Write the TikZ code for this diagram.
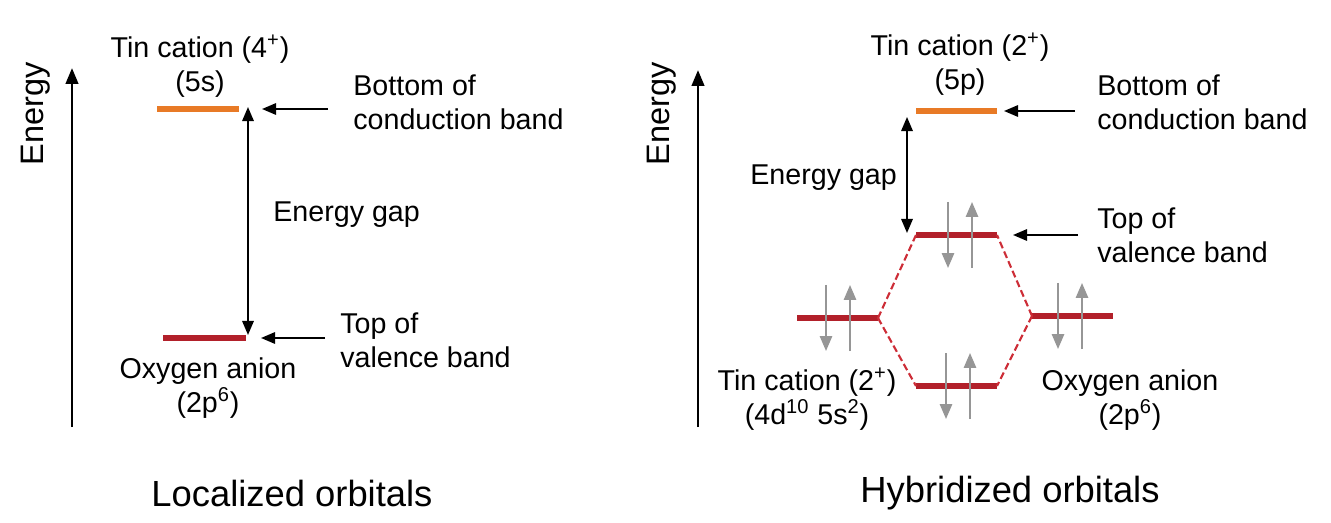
\documentclass[tikz,border=0pt]{standalone}
\usepackage{fontspec}
\setmainfont{Liberation Sans}
\usetikzlibrary{arrows.meta}
\definecolor{cborange}{RGB}{232,122,38}
\definecolor{vbred}{RGB}{178,32,42}
\definecolor{mored}{RGB}{205,45,55}
\definecolor{spingray}{RGB}{150,150,150}
\begin{document}
\begin{tikzpicture}[x=0.02cm, y=-0.02cm,
  lbl/.style={inner sep=0pt, font=\fontsize{16.3}{19.5}\selectfont, align=left, anchor=west},
  ctr/.style={inner sep=0pt, font=\fontsize{16.3}{19.5}\selectfont, align=center},
  ttl/.style={inner sep=0pt, font=\fontsize{20.7}{24}\selectfont},
  ax/.style={inner sep=0pt, rotate=90, font=\fontsize{18.5}{22}\selectfont},
  axis/.style={line width=1.6pt, -{Triangle[width=7pt,length=9pt]}},
  ptr/.style={line width=1.1pt, -{Triangle[width=6.5pt,length=8pt]}},
  gap/.style={line width=1.1pt, {Triangle[width=6.5pt,length=8pt]}-{Triangle[width=6.5pt,length=8pt]}},
  bar/.style={line width=3.4pt},
  mo/.style={mored, line width=1.2pt, dash pattern=on 4pt off 2pt},
  spin/.style={spingray, line width=1.1pt, -{Triangle[width=7pt,length=8.5pt]}}]
\useasboundingbox (0,0) rectangle (1331,523);

% localized orbitals
\coordinate (lax0) at (72,427);
\coordinate (lax1) at (72,68);
\draw[axis] (lax0) -- (lax1);
\node[ax] (len) at (36,114) {Energy};
\coordinate (lcb0) at (157,109);
\coordinate (lcb1) at (239,109);
\draw[bar, cborange] (lcb0) -- (lcb1);
\coordinate (lvb0) at (163,338);
\coordinate (lvb1) at (246,338);
\draw[bar, vbred] (lvb0) -- (lvb1);
\node[ctr] (lsn) at (200,66) {Tin cation (4\textsuperscript{+})\\(5s)};
\node[ctr] (lox) at (208,388) {Oxygen anion\\(2p\textsuperscript{6})};
\node[lbl] (lcbt) at (353,102) {Bottom of\\conduction band};
\node[lbl] (lvbt) at (340,340) {Top of\\valence band};
\node[lbl] (lgapt) at (273,215) {Energy gap};
\coordinate (lgap0) at (248,107);
\coordinate (lgap1) at (248,335);
\draw[gap] (lgap0) -- (lgap1);
\coordinate (lp0) at (328,109);
\coordinate (lp1) at (262,109);
\draw[ptr] (lp0) -- (lp1);
\coordinate (lp2) at (325,338);
\coordinate (lp3) at (261,338);
\draw[ptr] (lp2) -- (lp3);
\node[ttl] (lttl) at (292,493) {Localized orbitals};

% hybridized orbitals
\coordinate (rax0) at (698,427);
\coordinate (rax1) at (698,70);
\draw[axis] (rax0) -- (rax1);
\node[ax] (ren) at (662,114) {Energy};
\coordinate (rcb0) at (916,111);
\coordinate (rcb1) at (997,111);
\draw[bar, cborange] (rcb0) -- (rcb1);
\coordinate (rvb0) at (916,235);
\coordinate (rvb1) at (997,235);
\draw[bar, vbred] (rvb0) -- (rvb1);
\coordinate (rbb0) at (916,386);
\coordinate (rbb1) at (997,386);
\draw[bar, vbred] (rbb0) -- (rbb1);
\coordinate (rsn0) at (797,318);
\coordinate (rsn1) at (878,318);
\draw[bar, vbred] (rsn0) -- (rsn1);
\coordinate (rox0) at (1032,316);
\coordinate (rox1) at (1113,316);
\draw[bar, vbred] (rox0) -- (rox1);
\draw[mo] (rsn1) -- (rvb0);
\draw[mo] (rsn1) -- (rbb0);
\draw[mo] (rox0) -- (rvb1);
\draw[mo] (rox0) -- (rbb1);
% spin pairs
\coordinate (sp0) at (960,235);
\coordinate (sp1) at (958,386);
\coordinate (sp2) at (838,318);
\coordinate (sp3) at (1070,316);
\foreach \s in {sp0,sp1,sp2,sp3}{
  \draw[spin] ([shift={(-12,-33)}]\s) -- ([shift={(-12,33)}]\s);
  \draw[spin] ([shift={(12,33)}]\s) -- ([shift={(12,-33)}]\s);
}
\node[ctr] (rsn) at (960,64) {Tin cation (2\textsuperscript{+})\\(5p)};
\node[ctr] (rsnb) at (807,399) {Tin cation (2\textsuperscript{+})\\(4d\textsuperscript{10} 5s\textsuperscript{2})};
\node[ctr] (roxb) at (1130,400) {Oxygen anion\\(2p\textsuperscript{6})};
\node[lbl] (rcbt) at (1097,102) {Bottom of\\conduction band};
\node[lbl] (rvbt) at (1097,235) {Top of\\valence band};
\node[lbl] (rgapt) at (750,178) {Energy gap};
\coordinate (rgap0) at (907,117);
\coordinate (rgap1) at (907,233);
\draw[gap] (rgap0) -- (rgap1);
\coordinate (rp0) at (1075,111);
\coordinate (rp1) at (1004,111);
\draw[ptr] (rp0) -- (rp1);
\coordinate (rp2) at (1078,235);
\coordinate (rp3) at (1013,235);
\draw[ptr] (rp2) -- (rp3);
\node[ttl] (rttl) at (1010,493) {Hybridized orbitals};
\end{tikzpicture}
\end{document}
